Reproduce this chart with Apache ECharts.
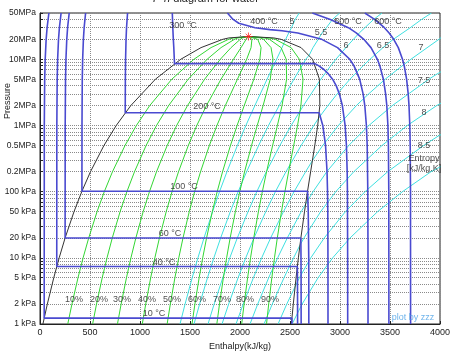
<!DOCTYPE html>
<html><head><meta charset="utf-8">
<script src="https://cdn.jsdelivr.net/npm/echarts@6/dist/echarts.min.js"></script>
<style>html,body{margin:0;padding:0;background:#fff}#c{width:474px;height:352px}</style>
</head><body><div id="c"></div>
<script>
// ---------- axis ticks ----------
const xTicks = [0, 500, 1000, 1500, 2000, 2500, 3000, 3500, 4000];
const yGridValues = [1,2,3,4,5,6,7,8,9,10,20,30,40,50,60,70,80,90,100,200,300,400,500,600,700,800,900,
  1000,2000,3000,4000,5000,6000,7000,8000,9000,10000,20000,30000,40000,50000];
const yLabelValues = [1,2,5,10,20,50,100,200,500,1000,2000,5000,10000,20000,50000];
const yLabelTexts = ['1 kPa','2 kPa','5 kPa','10 kPa','20 kPa','50 kPa','100 kPa','0.2MPa','0.5MPa','1MPa','2MPa','5MPa','10MPa','20MPa','50MPa'];

// ---------- saturation dome (P in kPa, h in kJ/kg) ----------
const satP  = [1,2,5,10,20,50,100,200,500,1000,2000,5000,10000,15000,20000,21000];
const satHf = [29.3,73.4,137.7,191.8,251.4,340.5,417.5,504.7,640.1,762.5,908.5,1154.5,1407.9,1610.2,1827.2,1888];
const satHg = [2513.7,2532.9,2560.7,2583.9,2608.9,2645.2,2674.9,2706.3,2748.1,2777.1,2798.3,2794.2,2725.5,2610.7,2411.1,2338];
const criticalPoint = [2084.3, 22064];

// ---------- constant quality lines ----------
const qualityP = [1,2,5,10,20,50,100,200,500,1000,2000,5000,10000,15000,20000,21000,22064];
const q10 = [277.7,319.4,380.0,431.0,487.2,571.0,643.2,724.9,850.9,964.0,1097.5,1318.5,1539.7,1710.3,1885.6,1933,2084.3];
const q20 = [526.2,565.3,622.3,670.2,722.9,801.4,869.0,945.0,1061.7,1165.4,1286.5,1482.4,1671.4,1810.3,1944.0,1978,2084.3];
const q30 = [774.6,811.3,864.6,909.4,958.7,1031.9,1094.7,1165.2,1272.5,1366.9,1475.4,1646.4,1803.2,1910.4,2002.4,2023,2084.3];
const q40 = [1023.1,1057.2,1106.9,1148.6,1194.4,1262.4,1320.5,1385.3,1483.3,1568.3,1664.4,1810.4,1934.9,2010.4,2060.8,2068,2084.3];
const q50 = [1271.5,1303.2,1349.2,1387.9,1430.2,1492.9,1546.2,1605.5,1694.1,1769.8,1853.4,1974.4,2066.7,2110.5,2119.2,2113,2084.3];
const q60 = [1520.0,1549.1,1591.5,1627.1,1665.9,1723.3,1771.9,1825.7,1904.9,1971.3,2042.4,2138.3,2198.5,2210.5,2177.5,2158,2084.3];
const q70 = [1768.4,1795.1,1833.8,1866.3,1901.7,1953.8,1997.7,2045.8,2115.7,2172.7,2231.4,2302.3,2330.2,2310.6,2235.9,2203,2084.3];
const q80 = [2016.8,2041.0,2076.1,2105.5,2137.4,2184.3,2223.4,2266.0,2326.5,2374.2,2420.3,2466.3,2462.0,2410.6,2294.3,2248,2084.3];
const q90 = [2265.3,2287.0,2318.4,2344.7,2373.2,2414.7,2449.2,2486.1,2537.3,2575.6,2609.3,2630.2,2593.7,2510.7,2352.7,2293,2084.3];
const qualityLabels = ['10%','20%','30%','40%','50%','60%','70%','80%','90%'];

// ---------- isotherms [h, P] ----------
const isoT10  = [[89,50000],[71,30000],[61.5,20000],[52,10000],[47,5000],[43,1000],[42,1.2282],[2519.2,1.2282],[2519.5,1]];
const isoT40  = [[211,50000],[194,30000],[185.2,20000],[176.4,10000],[171.9,5000],[168.4,1000],[167.5,7.384],[2573.5,7.384],[2574.5,5],[2575.6,2],[2576,1]];
const isoT60  = [[292,50000],[276,30000],[267.8,20000],[259.5,10000],[255.3,5000],[252,1000],[251.1,19.94],[2608.8,19.94],[2610,10],[2611,5],[2611.5,1]];
const isoT100 = [[456,50000],[441.4,30000],[434,20000],[426.5,10000],[422.7,5000],[420,1000],[419.2,101.42],[2675.6,101.42],[2682.4,50],[2687.5,10],[2688.3,1]];
const isoT200 = [[875.6,50000],[865.3,30000],[860.5,20000],[855.9,10000],[853.6,5000],[852.3,1554.9],[2792.0,1554.9],[2827.9,1000],[2855.4,500],[2870.5,200],[2875.3,100],[2878,50],[2879.5,10],[2880,1]];
const isoT300 = [[1323,50000],[1328,30000],[1333.3,20000],[1338,15000],[1343.1,10000],[1344.8,8587.9],[2749.6,8587.9],[2785,8000],[2839.3,7000],[2884.2,6000],[2925.7,5000],[2961.7,4000],[2993.5,3000],[3023.5,2000],[3051.2,1000],[3064.2,500],[3071.8,200],[3074.3,100],[3076.5,10],[3077,1]];
const isoT400 = [[1874,50000],[1931,40000],[1988,35000],[2151,30000],[2300,28000],[2420,27000],[2578,25000],[2818,20000],[2975.5,15000],[3097.4,10000],[3139,8000],[3196.7,5000],[3231,3000],[3248,2000],[3264,1000],[3272,500],[3278,100],[3280,10],[3280,1]];
const isoT500 = [[2723,50000],[2903,40000],[3084,30000],[3162,25000],[3238,20000],[3310,15000],[3374,10000],[3398,8000],[3434,5000],[3456,3000],[3468,2000],[3479,1000],[3484,500],[3488,100],[3489,1]];
const isoT600 = [[3248,50000],[3346,40000],[3444,30000],[3491,25000],[3537,20000],[3583,15000],[3625,10000],[3642,8000],[3666,5000],[3682,3000],[3690,2000],[3698,1000],[3702,500],[3705,100],[3706,1]];

// ---------- isentropes [h, P] ----------
const s50 = [[1400.1,1],[1450.7,2],[1522,5],[1579.3,10],[1640.2,20],[1726.2,50],[1795.4,100],[1869.7,200],[1974.4,500],[2058.9,1000],[2149.1,2000],[2270.9,5000],[2365.8,10000],[2420.5,15000],[2443,18000],[2452,19180],[2457,20000],[2487,25000],[2515,30000],[2552,40000],[2592,50000]];
const s55 = [[1540.2,1],[1596.0,2],[1675,5],[1738.8,10],[1806.8,20],[1903.5,50],[1981.8,100],[2066.4,200],[2186.9,500],[2285.4,1000],[2392.1,2000],[2539.4,5000],[2657.9,10000],[2693,11600],[2730,15000],[2782,20000],[2820,25000],[2864,30000],[2925,40000],[2997,50000]];
const s60 = [[1680.2,1],[1741.3,2],[1828,5],[1898.2,10],[1973.4,20],[2080.7,50],[2168.1,100],[2263.1,200],[2399.4,500],[2511.9,1000],[2635.0,2000],[2797,4730],[2808,5000],[2908,8000],[2959,10000],[3059,15000],[3134,20000],[3193,25000],[3249,30000],[3337,40000],[3420,50000]];
const s65 = [[1820.3,1],[1886.6,2],[1981,5],[2057.7,10],[2140.0,20],[2258.0,50],[2354.5,100],[2459.8,200],[2611.9,500],[2738.4,1000],[2788,1300],[2880,2000],[2972,3000],[3100,5000],[3232,8000],[3300,10000],[3430,15000],[3533,20000],[3703,30000],[3816,40000],[3915,50000]];
const s70 = [[1960.3,1],[2031.9,2],[2134,5],[2217.1,10],[2306.6,20],[2435.2,50],[2540.8,100],[2656.5,200],[2724,294],[2828,500],[2984,1000],[3164,2000],[3287,3000],[3452,5000],[3624,8000],[3709,10000],[3989,20000],[4040,23000]];
const s75 = [[2100.4,1],[2177.2,2],[2287,5],[2376.6,10],[2473.2,20],[2612.5,50],[2660,66],[2731,100],[2868,200],[3088,500],[3289,1000],[3524,2000],[3889,5000],[3971,6000],[4050,7000]];
const s80 = [[2240.4,1],[2322.5,2],[2440,5],[2536.0,10],[2598,15.35],[2640,20],[2807,50],[2958,100],[3138,200],[3421,500],[3674,1000],[3968,2000],[4060,2400]];
const s85 = [[2380.5,1],[2467.8,2],[2553,3.72],[2594,5],[2708,10],[2843,20],[3055,50],[3251,100],[3477,200],[3838,500],[3988,700],[4040,760]];
const s90 = [[2521,1],[2621,2],[2781,5],[2927,10],[3101,20],[3377,50],[3625,100],[3910,200],[4010,240]];

// ---------- annotation texts and their anchors (h, P) ----------
const noteTexts = ['300 °C','400 °C','500 °C','600 °C','200 °C','100 °C','60 °C','40 °C','10 °C',
  '5','5.5','6','6.5','7','7.5','8','8.5','Entropy','[kJ/kg.K]'];
const noteH = [1430,2240,3080,3480,1670,1440,1300,1240,1140, 2520,2810,3060,3430,3810,3840,3840,3840,3840,3840];
const noteP = [32600,37470,37470,37470,1953,121,23.6,8.63,1.416, 37470,25560,16270,16270,15170,4820,1585,503,320,226];
const qualityLabelH = [340,590,820,1070,1320,1570,1820,2050,2300];
const qualityLabelP = 2.385;

// ---------- build ----------
const L = v => Math.log10(v);
const tr = pts => pts.map(p => [p[0], L(p[1])]);
const yMax = L(50000);

function line(pts, color, width, z) {
  return {type:'line', data: tr(pts), symbol:'none', showSymbol:false, silent:true,
    lineStyle:{color:color, width:width}, z:z, animation:false, clip:true};
}
const series = [];
const isentropes = [s50,s55,s60,s65,s70,s75,s80,s85,s90];
isentropes.forEach(s => series.push(line(s, '#3fe0e0', 1, 2)));
[q10,q20,q30,q40,q50,q60,q70,q80,q90].forEach(q => series.push(line(q.map((h,i)=>[h, qualityP[i]]), '#33d633', 1, 3)));
const dome = satHf.map((h,i)=>[h, satP[i]]).concat([criticalPoint]).concat(satHg.map((h,i)=>[h, satP[i]]).reverse());
series.push(line(dome, '#333333', 1, 4));
[isoT10,isoT40,isoT60,isoT100,isoT200,isoT300,isoT400,isoT500,isoT600].forEach(t => series.push(line(t, '#4a4ad0', 1.6, 5)));
series.push({type:'scatter', data:[[criticalPoint[0], L(criticalPoint[1])]], z:8, silent:true, animation:false,
  symbol:'path://M0,4L8,4M4,0L4,8M1.3,1.3L6.7,6.7M6.7,1.3L1.3,6.7', symbolSize:8,
  itemStyle:{color:'none', borderColor:'#ff2020', borderWidth:1}});
const notes = noteTexts.map((t,i)=>({value:[noteH[i], L(noteP[i])], name:t}))
  .concat(qualityLabels.map((t,i)=>({value:[qualityLabelH[i], L(qualityLabelP)], name:t})));
series.push({type:'scatter', data:notes, symbolSize:1, z:9, silent:true, animation:false,
  itemStyle:{color:'rgba(0,0,0,0)'},
  label:{show:true, position:'inside', formatter:p=>p.name, color:'#222', fontSize:9, fontFamily:'Liberation Sans'}});
series.push({type:'scatter', data:[{value:[3730, L(1.232)], name:'plot by zzz'}], symbolSize:1, z:9, silent:true, animation:false,
  itemStyle:{color:'rgba(0,0,0,0)'},
  label:{show:true, position:'inside', formatter:p=>p.name, color:'#4aa0e6', fontSize:9, fontFamily:'Liberation Sans'}});

const chart = echarts.init(document.getElementById('c'), null, {renderer:'canvas'});
chart.setOption({
  backgroundColor:'#fff',
  animation:false,
  textStyle:{fontFamily:'Liberation Sans'},
  grid:{left:40, right:34, top:13, bottom:28, show:true, borderColor:'#222', borderWidth:1, outerBoundsMode:'none', containLabel:false},
  xAxis:{type:'value', min:0, max:4000, interval:500,
    name:'Enthalpy(kJ/kg)', nameLocation:'middle', nameGap:13,
    nameTextStyle:{fontSize:9, color:'#222'},
    axisLine:{show:true, lineStyle:{color:'#222'}},
    axisTick:{show:true, inside:true, length:3, lineStyle:{color:'#222'}},
    axisLabel:{fontSize:9, color:'#222', margin:4, formatter:v=>String(v)},
    splitLine:{show:true, lineStyle:{color:'#8a8a8a', type:'dotted', width:1}}},
  yAxis:{type:'value', min:0, max:yMax,
    axisLine:{show:true, lineStyle:{color:'#222'}},
    axisTick:{show:true, inside:true, length:3, customValues:yGridValues.map(L), lineStyle:{color:'#222'}},
    axisLabel:{customValues:yLabelValues.map(L), fontSize:8.5, color:'#222', margin:4,
      formatter:v=>{const i=yLabelValues.findIndex(x=>Math.abs(L(x)-v)<1e-6); return i>=0?yLabelTexts[i]:'';}},
    splitLine:{show:true, lineStyle:{color:'#8a8a8a', type:'dotted', width:1}}},
  graphic:[
    {type:'text', x:206, y:-1, style:{text:'{i|P-h} diagram for water', align:'center', verticalAlign:'middle',
      fontSize:11, fill:'#222', fontFamily:'Liberation Sans', rich:{i:{fontStyle:'italic', fontSize:11, fontFamily:'Liberation Sans'}}}},
    {type:'text', x:8, y:101, rotation:Math.PI/2, style:{text:'Pressure', align:'center', verticalAlign:'middle',
      fontSize:9, fill:'#222', fontFamily:'Liberation Sans'}}
  ],
  series:series
});
</script></body></html>
